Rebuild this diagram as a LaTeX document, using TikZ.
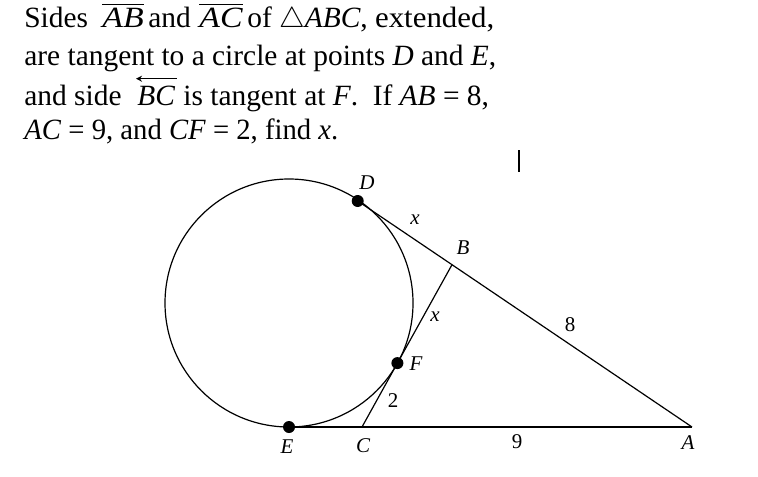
\documentclass[tikz,border=0pt]{standalone}
\usepackage{amsmath}
\usepackage{graphicx}
\usepackage{fontspec}
\setmainfont{Liberation Serif}
\usetikzlibrary{arrows.meta}
\begin{document}
\begin{tikzpicture}[x=0.5pt,y=-0.5pt,
  txt/.style={anchor=base west,inner sep=0pt,font=\fontsize{14.7}{16}\selectfont},
  lbl/.style={inner sep=0pt,font=\fontsize{10.5}{12}\selectfont\itshape},
  num/.style={inner sep=0pt,font=\fontsize{10.5}{12}\selectfont},
  geo/.style={line width=0.6pt},
  pt/.style={circle,fill=black,inner sep=0pt,minimum size=6pt}]
\useasboundingbox (0,0) rectangle (758,476);
% problem text, line 1
\node[txt] (l1a) at (24,28) {Sides};
\node[txt] (l1b) at (102,28) {$\overline{\mbox{\scalebox{1.15}[1]{\itshape AB}}}$};
\node[txt] (l1c) at (148,28) {and};
\node[txt] (l1d) at (199,28) {$\overline{\mbox{\scalebox{1.15}[1]{\itshape AC}}}$};
\node[txt] (l1e) at (247,28) {of $\triangle$\textit{ABC}, \scalebox{1.05}[1]{extended,}};
% line 2
\node[txt] (l2) at (24,66) {are tangent to a circle at points \textit{D} and \textit{E},};
% line 3
\node[txt] (l3a) at (24,105) {and side};
\node[txt] (bc) at (137,105) {\textit{BC}};
\node[txt] (l3b) at (bc.base east) {\ is tangent at \textit{F}.\ \ If \textit{AB} = 8,};
\draw[line width=0.6pt,{Stealth[length=3pt,width=3pt]}-] ([xshift=-0.5pt,yshift=3.2pt]bc.north west) -- ([xshift=0.5pt,yshift=3.2pt]bc.north east);
% line 4
\node[txt] (l4) at (24,139) {\scalebox{0.975}[1]{\textit{AC} = 9, and \textit{CF} = 2, find \textit{x}.}};
\coordinate (bar1) at (519,150);
\coordinate (bar2) at (519,172);
\draw[line width=1.1pt] (bar1) -- (bar2);
% geometry
\coordinate (O) at (289,303);
\coordinate (E) at (289,427);
\coordinate (C) at (362,427);
\coordinate (A) at (692,427);
\coordinate (D) at (357.7,201);
\coordinate (F) at (397.4,363.1);
\coordinate (B) at (452,264.7);
\draw[geo] (O) circle[radius=62pt];
\draw[geo] (D) -- (B) -- (A);
\draw[geo] (E) -- (C) -- (A);
\draw[geo] (B) -- (F) -- (C);
\node[pt] (Dp) at (D) {};
\node[pt] (Fp) at (F) {};
\node[pt] (Ep) at (E) {};
% labels
\node[lbl] (Dl) at (367,183) {D};
\node[lbl] (x1) at (415,220) {x};
\node[lbl] (Bl) at (463,248) {B};
\node[lbl] (x2) at (435,317) {x};
\node[lbl] (Fl) at (416,364) {F};
\node[num] (n2) at (393,401) {2};
\node[num] (n8) at (570,325) {8};
\node[lbl] (El) at (287,447) {E};
\node[lbl] (Cl) at (363,446) {C};
\node[num] (n9) at (517,442) {9};
\node[lbl] (Al) at (688,443) {A};
\end{tikzpicture}
\end{document}
